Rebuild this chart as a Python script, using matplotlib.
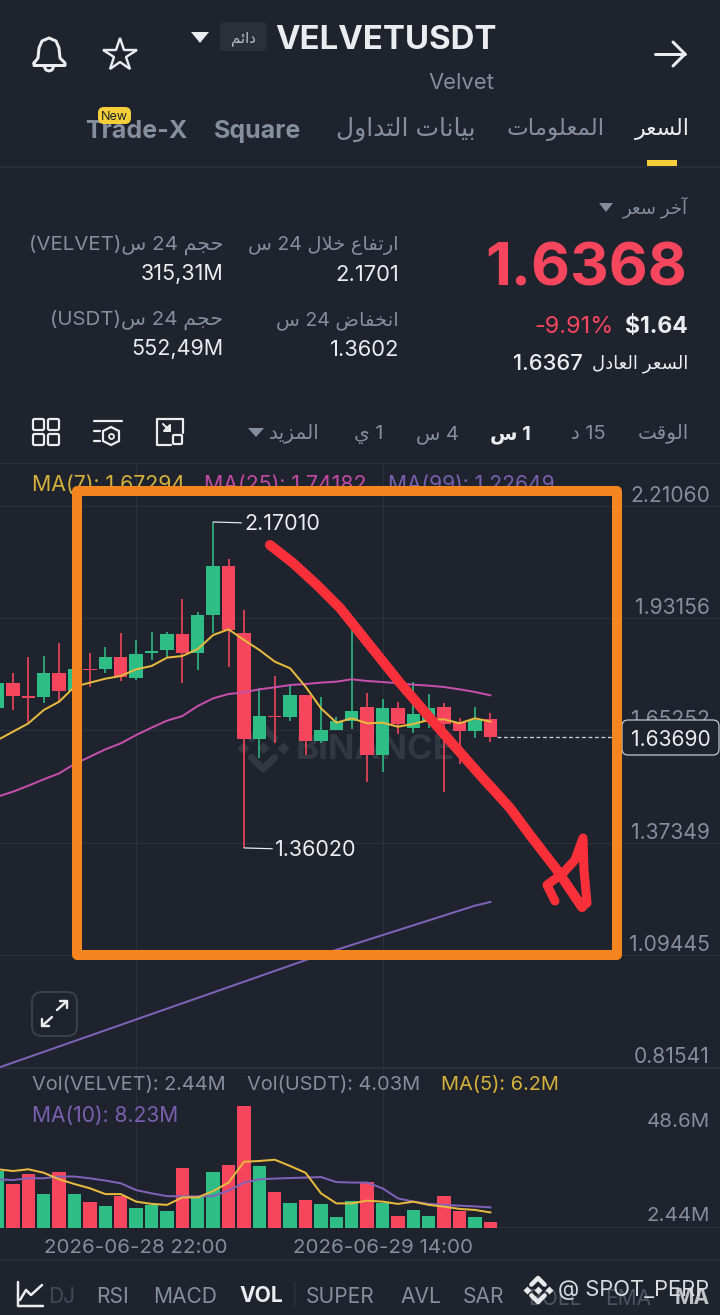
import re
import matplotlib
matplotlib.use('Agg')
import matplotlib.pyplot as plt
from matplotlib.patches import FancyBboxPatch, Polygon, Rectangle

# hourly candles
opens = [1.7071, 1.7692, 1.7377, 1.7361, 1.7941, 1.7502, 1.8048, 1.8057, 1.8338, 1.7816, 1.8438,
         1.8521, 1.8918, 1.8454, 1.9398, 2.0608, 1.8935, 1.6309, 1.6889, 1.6864, 1.7411, 1.6259,
         1.6524, 1.6756, 1.7096, 1.5911, 1.7071, 1.6574, 1.6740, 1.7096, 1.6740, 1.6516, 1.6798]
highs = [1.7775, 1.7941, 1.8355, 1.8380, 1.8686, 1.8106, 1.8454, 1.8603, 1.8935, 1.8769, 1.8976,
         1.8968, 1.9788, 1.9473, 2.1701, 2.0782, 1.9514, 1.7568, 1.7875, 1.7626, 1.7411, 1.7344,
         1.6864, 1.9017, 1.7460, 1.7295, 1.7237, 1.7734, 1.7427, 1.7195, 1.6822, 1.7112, 1.6947]
lows = [1.7030, 1.7030, 1.6740, 1.7212, 1.7261, 1.7444, 1.7609, 1.7941, 1.7758, 1.7775, 1.8272,
        1.8355, 1.7692, 1.8024, 1.8951, 1.8106, 1.3602, 1.5829, 1.6201, 1.6748, 1.5911, 1.6201,
        1.6524, 1.6549, 1.5249, 1.5497, 1.6433, 1.6450, 1.6574, 1.4984, 1.5688, 1.6342, 1.6243]
closes = [1.7692, 1.7386, 1.7328, 1.7941, 1.7502, 1.8048, 1.8015, 1.8338, 1.7858, 1.8421, 1.8504,
          1.8918, 1.8454, 1.9398, 2.0608, 1.9017, 1.6309, 1.6889, 1.6847, 1.7411, 1.6259, 1.6524,
          1.6756, 1.7002, 1.5911, 1.7071, 1.6682, 1.6922, 1.7071, 1.6682, 1.6516, 1.6781, 1.6369]

ma7 = [1.6284, 1.6491, 1.6698, 1.7030, 1.7237, 1.7609, 1.7709, 1.7808, 1.7875, 1.8040, 1.8123,
       1.8330, 1.8371, 1.8545, 1.8893, 1.9034, 1.8769, 1.8521, 1.8231, 1.8065, 1.7609, 1.7071,
       1.6715, 1.6823, 1.6698, 1.6715, 1.6615, 1.6682, 1.6781, 1.6798, 1.6698, 1.6823, 1.6740]
ma25 = [1.4876, 1.5000, 1.5149, 1.5307, 1.5456, 1.5688, 1.5870, 1.6052, 1.6201, 1.6408, 1.6591,
        1.6765, 1.6880, 1.7129, 1.7319, 1.7427, 1.7468, 1.7543, 1.7593, 1.7651, 1.7676, 1.7709,
        1.7734, 1.7792, 1.7750, 1.7725, 1.7692, 1.7659, 1.7634, 1.7601, 1.7543, 1.7477, 1.7394]
ma99 = [0.8134, 0.8268, 0.8402, 0.8536, 0.8670, 0.8804, 0.8938, 0.9072, 0.9206, 0.9340, 0.9474,
        0.9608, 0.9742, 0.9876, 1.0010, 1.0144, 1.0278, 1.0412, 1.0546, 1.0680, 1.0814, 1.0948,
        1.1070, 1.1192, 1.1314, 1.1436, 1.1558, 1.1680, 1.1802, 1.1924, 1.2046, 1.2168, 1.2260]

volumes = [22.8, 17.4, 21.4, 13.7, 22.3, 13.4, 10.2, 8.6, 12.9, 7.8, 9.0, 6.9, 23.8, 12.2, 22.3, 25.2,
           48.6, 24.7, 14.5, 9.8, 11.3, 9.6, 4.2, 10.6, 18.5, 10.1, 4.9, 7.2, 4.8, 12.9, 6.9, 4.4, 2.44]
vol_ma5 = [23.4, 22.7, 23.4, 22.0, 19.4, 17.5, 15.8, 13.5, 13.5, 10.5, 9.6, 9.2, 12.2, 12.2, 14.7, 18.1,
           26.4, 26.7, 27.2, 24.7, 22.0, 13.8, 9.8, 9.8, 10.9, 10.5, 9.6, 10.5, 9.2, 8.5, 7.6, 7.2, 6.2]
vol_ma10 = [19.4, 19.1, 19.8, 19.8, 20.5, 20.5, 19.8, 18.9, 17.8, 15.1, 13.8, 12.7, 12.6, 12.6, 12.7, 14.9,
            18.1, 19.4, 19.7, 19.9, 20.1, 20.3, 18.3, 18.1, 18.1, 15.8, 11.8, 10.5, 9.6, 9.2, 8.9, 8.6, 8.23]

price_ticks = [2.21060, 1.93156, 1.65252, 1.37349, 1.09445, 0.81541]
time_ticks = [9, 25]
time_labels = ['2026-06-28 22:00', '2026-06-29 14:00']
last_price = 1.6369

BG = '#1e232d'
GRID = '#2b313b'
GRAY = '#848e9c'
WHITE = '#eaecef'
GREEN = '#2ebd85'
RED = '#f6465d'
YELLOW = '#e8b93f'
PINK = '#c64fae'
PURPLE = '#8062b8'
MARK = '#323842'
FONT = ['Inter', 'DejaVu Sans']

# matplotlib does not shape arabic, so pick the presentation forms by hand
FOUR = {'ئ': 0xFE89, 'ب': 0xFE8F, 'ت': 0xFE95, 'ج': 0xFE9D, 'ح': 0xFEA1, 'خ': 0xFEA5, 'س': 0xFEB1,
        'ض': 0xFEBD, 'ع': 0xFEC9, 'ف': 0xFED1, 'ق': 0xFED5, 'ل': 0xFEDD, 'م': 0xFEE1, 'ن': 0xFEE5,
        'ي': 0xFEF1}
TWO = {'ا': 0xFE8D, 'آ': 0xFE81, 'د': 0xFEA9, 'ر': 0xFEAD, 'ز': 0xFEAF, 'و': 0xFEED}


def shape(word):
    out = []
    i = 0
    while i < len(word):
        ch = word[i]
        prev = word[i - 1] if i > 0 else ''
        nxt = word[i + 1] if i + 1 < len(word) else ''
        joined = prev in FOUR
        if ch == 'ل' and nxt == 'ا':
            out.append(chr(0xFEFC if joined else 0xFEFB))
            i += 2
            continue
        if ch in FOUR:
            goes_on = nxt in FOUR or nxt in TWO
            offset = {(False, False): 0, (True, False): 1, (False, True): 2, (True, True): 3}[(joined, goes_on)]
            out.append(chr(FOUR[ch] + offset))
        elif ch in TWO:
            out.append(chr(TWO[ch] + (1 if joined else 0)))
        else:
            out.append(ch)
        i += 1
    return ''.join(reversed(out))


def ar(s):
    runs = re.findall(r'[\u0600-\u06ff ]+|[^\u0600-\u06ff ]+', s)
    return ''.join(shape(r) if re.search(r'[\u0600-\u06ff]', r) else r for r in reversed(runs))


W, H = 720, 1315
PX = 0.72  # pixels to points at dpi 100
fig = plt.figure(figsize=(W / 100, H / 100), dpi=100, facecolor=BG)


def overlay(z):
    a = fig.add_axes([0, 0, 1, 1], facecolor='none', zorder=z)
    a.set_xlim(0, W)
    a.set_ylim(H, 0)
    a.axis('off')
    return a


def axes_px(top, bottom):
    return fig.add_axes([0, 1 - bottom / H, 1, (bottom - top) / H], facecolor='none', zorder=1)


under = overlay(0)
ax = axes_px(463, 1068)
ax_vol = axes_px(1068, 1228)
ui = overlay(10)

ids = list(range(len(opens)))
colors = [GREEN if c >= o else RED for o, c in zip(opens, closes)]

for a in (ax, ax_vol):
    a.set_xlim(0.156, 46.91)
    for s in a.spines.values():
        s.set_visible(False)
    a.tick_params(length=0)
    a.set_xticks(time_ticks)
    a.grid(True, axis='x', color=GRID, lw=1 * PX)
    a.set_axisbelow(True)

# price panel
ax.set_ylim(0.8134, 2.3167)
ax.set_yticks(price_ticks)
ax.set_xticklabels([])
ax.set_yticklabels([])
ax.grid(True, axis='y', color=GRID, lw=1 * PX)
ax.axhline(2.3167, color=GRID, lw=1.5)

ax.vlines(ids, lows, highs, colors=colors, lw=1.6 * PX, zorder=3)
ax.bar(ids, [max(abs(c - o), 0.004) for o, c in zip(opens, closes)],
       bottom=[min(o, c) for o, c in zip(opens, closes)], width=0.87, color=colors, zorder=3)
ax.plot(ids, ma99, color=PURPLE, lw=2 * PX, zorder=4)
ax.plot(ids, ma25, color=PINK, lw=2 * PX, zorder=4)
ax.plot(ids, ma7, color=YELLOW, lw=2 * PX, zorder=5)
ax.hlines(last_price, ids[-1] + 0.45, 40.5, colors='#c9ced6', linestyles=(0, (3, 2)), lw=1.3 * PX, zorder=4)

for tick in price_ticks:
    ax.annotate(f'{tick:.5f}', xy=(1, tick), xycoords=ax.get_yaxis_transform(), xytext=(-10 * PX, 12 * PX),
                textcoords='offset points', ha='right', va='center_baseline', color=GRAY, fontsize=21 * PX, family=FONT)

hi = highs.index(max(highs))
lo = lows.index(min(lows))
for idx, val in ((hi, highs[hi]), (lo, lows[lo])):
    ax.annotate(f'{val:.5f}', xy=(idx, val), xytext=(31 * PX, 0), textcoords='offset points', ha='left',
                va='center_baseline', color=WHITE, fontsize=21.5 * PX, family=FONT, zorder=6,
                arrowprops=dict(arrowstyle='-', color=WHITE, lw=1.2 * PX, shrinkA=0, shrinkB=0))

# volume panel
ax_vol.set_ylim(0, 160 / 2.51)
ax_vol.set_yticks([])
ax_vol.bar(ids, volumes, width=0.87, color=colors, zorder=3)
ax_vol.plot(ids, vol_ma10, color=PURPLE, lw=2 * PX, zorder=4)
ax_vol.plot(ids, vol_ma5, color=YELLOW, lw=2 * PX, zorder=5)
ax_vol.set_xticklabels(time_labels, color=GRAY, fontsize=20.5 * PX, family=FONT)
ax_vol.tick_params(axis='x', pad=8)
ax_vol.axhline(0, color=GRID, lw=1.5)
ax_vol.axhline(160 / 2.51, color=GRID, lw=1.5)


def txt(x, y, s, size, color=GRAY, ha='left', weight='normal', alpha=1.0, z=5, on=None):
    return (on or ui).text(x, y, s, fontsize=size * PX, color=color, ha=ha, va='center_baseline', weight=weight,
                           family=FONT, alpha=alpha, zorder=z)


def line(xs, ys, color=WHITE, lw=2.5, z=5, on=None):
    (on or ui).plot(xs, ys, color=color, lw=lw * PX, solid_capstyle='round', solid_joinstyle='round', zorder=z)


def box(x0, y0, x1, y1, r=2, fc='none', ec=WHITE, lw=2.0, z=5):
    ui.add_patch(FancyBboxPatch((x0 + r, y0 + r), x1 - x0 - 2 * r, y1 - y0 - 2 * r,
                                boxstyle=f'round,pad={r},rounding_size={r}', fc=fc, ec=ec, lw=lw * PX, zorder=z))


def logo(a, cx, cy, s, color, lw, z):
    # exchange mark: two chevrons and three small diamonds
    line([cx - 0.55 * s, cx, cx + 0.55 * s], [cy - 0.45 * s, cy - s, cy - 0.45 * s], color, lw, z, a)
    line([cx - 0.55 * s, cx, cx + 0.55 * s], [cy + 0.45 * s, cy + s, cy + 0.45 * s], color, lw, z, a)
    for dx in (-s, 0, s):
        a.plot([cx + dx * 0.95], [cy], marker='D', ms=lw * 1.25 * PX, mfc=color, mec='none', zorder=z)


# watermark sits under the candles
txt(375, 746, 'BINANCE', 35, color=MARK, ha='center', weight='bold', z=1, on=under)
logo(under, 263, 748, 21, MARK, 7, 1)

# header
line([34, 38, 39, 42, 49, 56, 59, 60, 65, 65, 34, 34], [63, 58, 48, 41, 38, 41, 48, 58, 63, 65.5, 65.5, 63], lw=3)
line([44, 46, 49, 52, 54], [66, 70, 71, 70, 66], lw=3)
ui.plot([120], [55], marker='*', ms=35 * PX, mfc='none', mec=WHITE, mew=2.4 * PX, zorder=5)
line([655, 685], [54, 54], lw=3)
line([673, 685, 673], [42, 54, 66], lw=3)
ui.add_patch(Polygon([[191, 32], [209, 32], [200, 43]], fc=WHITE, ec='none'))
box(220, 22, 267, 51, r=5, fc='#2a303a', ec='none')
txt(243.5, 37, ar('دائم'), 15, color='#b7bdc6', ha='center')
txt(275, 37, 'VELVETUSDT', 33, color=WHITE, weight='bold')
txt(494, 81, 'Velvet', 22, ha='right')

txt(690, 126, ar('السعر'), 22, color=WHITE, ha='right')
txt(605, 126, ar('المعلومات'), 23, ha='right')
txt(476, 126, ar('بيانات التداول'), 25, ha='right')
txt(214, 129, 'Square', 25, weight='bold')
txt(85, 129, 'Trade-X', 25, weight='bold')
box(98, 107, 131, 124, r=6, fc='#f5cf3a', ec='none', z=6)
txt(114.5, 115.5, 'New', 12.5, color='#1e232d', ha='center', z=7)
ui.add_patch(Rectangle((647, 160), 30, 6, fc='#f5cf3a', ec='none', zorder=5))
line([0, 720], [166.5, 166.5], color=GRID, lw=1.5, z=4)

# price block
txt(688, 205, ar('آخر سعر'), 18, ha='right')
ui.add_patch(Polygon([[599, 203], [613, 203], [606, 212]], fc=GRAY, ec='none'))
txt(687, 264, '1.6368', 60, color=RED, ha='right', weight='bold')
txt(614, 324, '-9.91%', 23.5, color=RED, ha='right')
txt(688, 324, '$1.64', 23, color=WHITE, ha='right', weight='bold')
txt(688, 361, ar('السعر العادل'), 18, color=WHITE, ha='right')
txt(583, 362, '1.6367', 22, color=WHITE, ha='right', weight='medium')

txt(399, 243, ar('ارتفاع خلال 24 س'), 19.5, ha='right')
txt(399, 273, '2.1701', 22, color=WHITE, ha='right')
txt(399, 318, ar('انخفاض 24 س'), 19.5, ha='right')
txt(399, 348, '1.3602', 22, color=WHITE, ha='right')
txt(223, 242, ar('حجم 24 س(VELVET)'), 20.5, ha='right')
txt(223, 272, '315,31M', 21.5, color=WHITE, ha='right')
txt(223, 317, ar('حجم 24 س(USDT)'), 20.5, ha='right')
txt(223, 347, '552,49M', 21.5, color=WHITE, ha='right')

# toolbar
for x0 in (33, 48):
    for y0 in (419, 434):
        box(x0, y0, x0 + 11, y0 + 11, r=1.5, ec=WHITE, lw=2.2)
line([94, 122], [421, 421], lw=2.2)
line([94, 100], [431, 431], lw=2.2)
line([94, 100], [441, 441], lw=2.2)
ui.add_patch(Polygon([[111, 427], [119, 431], [119, 441], [111, 445], [103, 441], [103, 431]],
                     fc='none', ec=WHITE, lw=2.2 * PX))
ui.plot([111], [436], marker='o', ms=5 * PX, mfc='none', mec=WHITE, mew=1.8 * PX)
line([157, 183, 183], [419, 419, 433], lw=2.2)
line([157, 157, 171], [419, 445, 445], lw=2.2)
box(173, 435, 182, 444, r=1, lw=2.2)
line([163, 170, 170, 164, 170], [424, 431, 425, 431, 431], lw=2)

txt(689, 431, ar('الوقت'), 20, ha='right')
txt(606, 432, ar('15 د'), 20, ha='right')
txt(531, 432, ar('1 س'), 20, color=WHITE, ha='right', weight='bold')
txt(459, 432, ar('4 س'), 20, ha='right')
txt(383, 432, ar('1 ي'), 20, ha='right')
txt(320, 431, ar('المزيد'), 20, ha='right')
ui.add_patch(Polygon([[248, 428], [264, 428], [256, 437]], fc=GRAY, ec='none'))

# indicator captions
txt(32, 483, 'MA(7): 1.67294', 21.3, color='#d5b13c')
txt(204, 483, 'MA(25): 1.74182', 21.3, color='#c04aa4')
txt(388, 483, 'MA(99): 1.22649', 21, color='#7a5fb0')
txt(32, 1083, 'Vol(VELVET): 2.44M', 20)
txt(247, 1083, 'Vol(USDT): 4.03M', 20)
txt(441, 1083, 'MA(5): 6.2M', 20, color='#d5b13c')
txt(32, 1114, 'MA(10): 8.23M', 21, color='#7a5fb0')
txt(710, 1120, '48.6M', 20.5, ha='right')
txt(710, 1214, '2.44M', 20.5, ha='right')

# pill with last price
box(622, 720, 719, 755, r=6, fc=BG, ec='#c9ced6', lw=1.2, z=6)
txt(670.5, 738, '1.63690', 21, color=WHITE, ha='center', z=7)

# expand button
box(32, 992, 77, 1036, r=10, ec='#3a404a', lw=2, z=6)
line([57, 67], [1010, 1001], lw=2.4, z=7)
line([60, 67, 67], [1001, 1001, 1008], lw=2.4, z=7)
line([52, 42], [1017, 1026], lw=2.4, z=7)
line([42, 42, 49], [1019, 1026, 1026], lw=2.4, z=7)

# bottom row
line([0, 720], [1260, 1260], color=GRID, lw=1.5, z=4)
line([18, 18, 43], [1282, 1306, 1306], lw=2.5)
line([20, 26, 31, 42], [1300, 1290, 1295, 1285], lw=2.5)
txt(48, 1295, 'DJ', 21, alpha=0.35)
txt(96, 1295, 'RSI', 21)
txt(153, 1295, 'MACD', 21)
txt(240, 1294, 'VOL', 21, color=WHITE, weight='bold')
line([295, 295], [1282, 1306], color=GRID, lw=1.5)
txt(306, 1295, 'SUPER', 21)
txt(400, 1295, 'AVL', 21)
txt(463, 1295, 'SAR', 21)
txt(528, 1297, 'BOLL', 21, alpha=0.45)
txt(605, 1297, 'EMA', 21, alpha=0.45)
txt(675, 1296, 'MA', 21, color=WHITE, weight='bold', alpha=0.8)
txt(558, 1288, '@ SPOT_PERP', 22, color='#d8dbe0', z=8)
logo(ui, 538, 1290, 12, '#e6e8ea', 4.5, 8)

# hand drawn box and arrow
ui.add_patch(Rectangle((77, 491), 540, 464, fc='none', ec='#f5851f', lw=10 * PX, joinstyle='round', zorder=8))
line([270, 293, 317, 340, 360, 400, 443, 480, 510, 530, 557, 582],
     [545, 563, 585, 608, 633, 683, 733, 775, 808, 835, 870, 907], color='#f9303a', lw=10, z=9)
line([582, 587, 584, 583, 575, 563, 547, 555], [907, 903, 870, 838, 860, 873, 885, 901],
     color='#f9303a', lw=9, z=9)

fig.savefig('out.png', dpi=100, facecolor=BG)
